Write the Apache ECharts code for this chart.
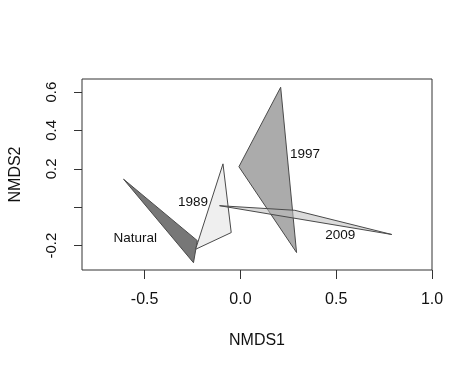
<!DOCTYPE html>
<html>
<head>
<meta charset="utf-8">
<script src="https://cdn.jsdelivr.net/npm/echarts@6/dist/echarts.min.js"></script>
<style>html,body{margin:0;padding:0;background:#fff;}#c{width:474px;height:370px;}</style>
</head>
<body>
<div id="c"></div>
<script>
// Hull vertices (NMDS1, NMDS2) per group
const groups = ['Natural', '1989', '1997', '2009'];
const naturalHull = [[-0.610, 0.146], [-0.225, -0.174], [-0.245, -0.289]];
const hull1989 = [[-0.091, 0.226], [-0.048, -0.132], [-0.234, -0.219]];
const hull1997 = [[0.210, 0.625], [0.293, -0.236], [-0.008, 0.211]];
const hull2009 = [[-0.109, 0.008], [0.284, -0.016], [0.790, -0.142]];
// Group label positions (NMDS1, NMDS2)
const labelPos = [[-0.549, -0.160], [-0.247, 0.028], [0.337, 0.274], [0.521, -0.146]];
// Axis ticks
const xTicks = [-0.5, 0.0, 0.5, 1.0];
const yTicks = [-0.2, 0.0, 0.2, 0.4, 0.6];
const yTickLabels = [-0.2, 0.2, 0.4, 0.6];

const hulls = [naturalHull, hull1989, hull1997, hull2009];
const fills = ['#777777', '#efefef', 'rgba(150,150,150,0.8)', 'rgba(190,190,190,0.55)'];
const FONT = 'Liberation Sans, Arial, Helvetica, sans-serif';

const chart = echarts.init(document.getElementById('c'), null, {renderer: 'canvas'});

const polySeries = hulls.map((h, gi) => ({
  type: 'custom',
  name: groups[gi],
  coordinateSystem: 'cartesian2d',
  data: h,
  clip: true,
  z: 2 + gi,
  renderItem: function (params, api) {
    if (params.dataIndex !== 0) return null;
    const pts = h.map(p => api.coord(p));
    return {
      type: 'polygon',
      shape: {points: pts},
      style: {fill: fills[gi], stroke: '#4a4a4a', lineWidth: 1}
    };
  }
}));

const option = {
  backgroundColor: '#fff',
  animation: false,
  grid: {left: 80, top: 79, width: 352, height: 191, show: true, borderColor: '#333', borderWidth: 1, backgroundColor: 'transparent'},
  xAxis: {
    type: 'value', min: -0.827, max: 1.0,
    name: 'NMDS1', nameLocation: 'middle', nameGap: 63,
    nameTextStyle: {fontFamily: FONT, fontSize: 16, color: '#111'},
    axisLine: {show: false, onZero: false},
    splitLine: {show: false},
    axisTick: {show: true, length: 9, inside: false, customValues: xTicks, lineStyle: {color: '#333', width: 1}},
    axisLabel: {show: true, customValues: xTicks, margin: 22, fontFamily: FONT, fontSize: 16, color: '#111',
      formatter: v => v.toFixed(1)}
  },
  yAxis: {
    type: 'value', min: -0.327, max: 0.668,
    name: 'NMDS2', nameLocation: 'middle', nameGap: 58, nameRotate: 90,
    nameTextStyle: {fontFamily: FONT, fontSize: 16, color: '#111'},
    axisLine: {show: false, onZero: false},
    splitLine: {show: false},
    axisTick: {show: true, length: 8, inside: false, customValues: yTicks, lineStyle: {color: '#333', width: 1}},
    axisLabel: {show: true, customValues: yTickLabels, rotate: 90, margin: 23, fontFamily: FONT, fontSize: 15, color: '#111',
      formatter: v => v.toFixed(1)}
  },
  series: polySeries.concat([{
    type: 'scatter',
    data: labelPos.map((p, i) => ({value: p, name: groups[i]})),
    symbolSize: 0,
    z: 10,
    itemStyle: {opacity: 1},
    label: {show: true, position: 'inside', formatter: p => p.name, fontFamily: FONT, fontSize: 13.5, color: '#111', textBorderWidth: 0}
  }]),
  textStyle: {fontFamily: FONT}
};
chart.setOption(option);
</script>
</body>
</html>
